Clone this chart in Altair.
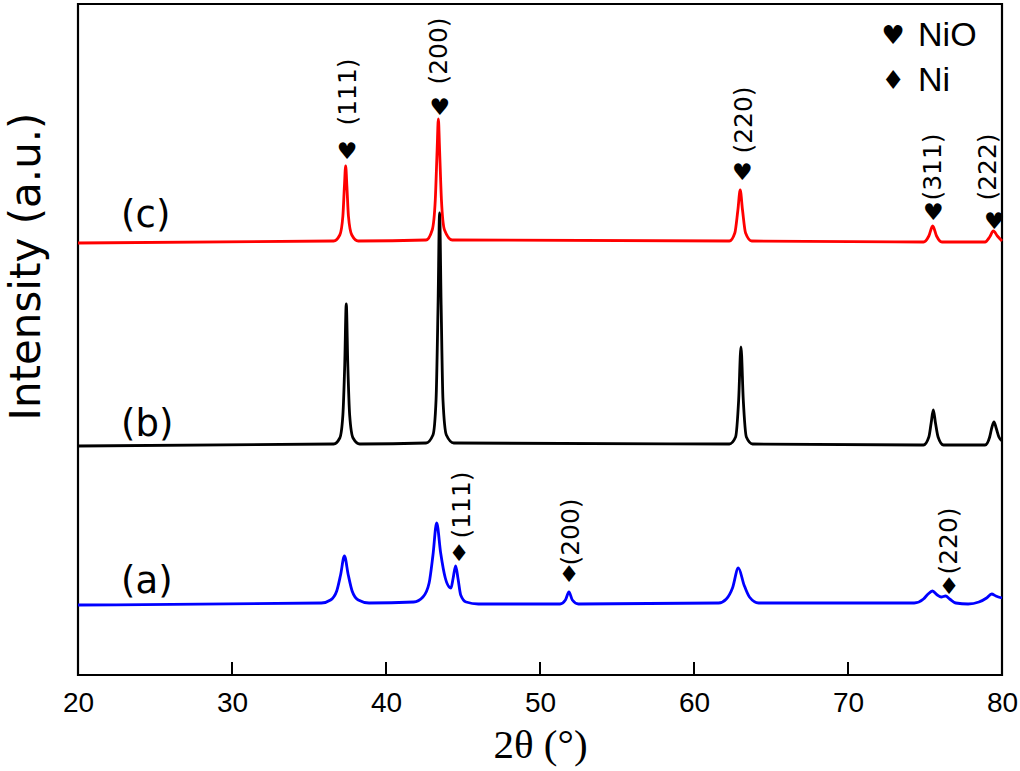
import altair as alt
import pandas as pd

# ---- data (2theta in degrees, intensity in arbitrary units, stacked offsets) ----
c_x = [20, 36.6, 37.0, 37.2, 37.3, 37.38, 37.46, 37.56, 37.78, 38.2,
       42.6, 43.0, 43.2, 43.32, 43.40, 43.48, 43.6, 43.8, 44.3,
       62.3, 62.65, 62.85, 63.0, 63.15, 63.35, 63.75,
       74.9, 75.25, 75.5, 75.75, 76.1,
       78.9, 79.2, 79.44, 79.7, 80]
c_y = [432, 434, 440, 459, 489, 509, 489, 459, 440, 434,
       435, 445, 475, 525, 556, 525, 475, 445, 435,
       434, 442, 465, 485, 465, 442, 434,
       433, 439, 449, 439, 433,
       433, 438, 444, 439, 434]

b_x = [20, 36.6, 37.0, 37.2, 37.32, 37.42, 37.52, 37.64, 37.86, 38.3,
       42.6, 43.05, 43.25, 43.38, 43.48, 43.58, 43.7, 43.92, 44.4,
       62.3, 62.7, 62.9, 63.05, 63.2, 63.4, 63.8,
       74.9, 75.25, 75.4, 75.54, 75.68, 75.85, 76.2,
       78.9, 79.2, 79.35, 79.48, 79.62, 79.8, 80]
b_y = [229, 231, 237, 260, 310, 371, 310, 260, 237, 231,
       232, 240, 275, 370, 462, 370, 275, 240, 232,
       231, 238, 275, 328, 275, 238, 231,
       230, 238, 252, 265, 252, 238, 230,
       230, 238, 248, 253, 247, 238, 234]

a_x = [20, 35.8, 36.4, 36.8, 37.05, 37.3, 37.55, 37.8, 38.2, 38.9,
       41.8, 42.4, 42.8, 43.05, 43.29, 43.55, 43.85, 44.1, 44.22, 44.35, 44.52, 44.68, 44.85, 45.2, 46,
       51.3, 51.65, 51.88, 52.1, 52.5,
       61.6, 62.1, 62.5, 62.88, 63.25, 63.6, 64.2,
       74.3, 74.9, 75.2, 75.48, 75.8, 76.05, 76.34, 76.6, 77.0, 77.8, 78.5, 79.0, 79.33, 79.6, 80]
a_y = [70, 72, 75, 84, 100, 119, 100, 84, 75, 72,
       73, 78, 92, 120, 152, 122, 97, 88, 87, 96, 109, 96, 80, 73, 71,
       71, 75, 83, 75, 71,
       72, 76, 87, 107, 90, 78, 72,
       72, 76, 81, 84, 80, 78, 79, 76, 72, 71, 73, 77, 81, 79, 77]

series_names = ["(a)", "(b)", "(c)"]
series_colors = ["#0000ff", "#000000", "#ff0000"]
label_x = [22.8, 22.8, 22.8]
label_y = [93, 250, 459]

# peak annotations: marker glyph, marker position, hkl label and label position
nio_peak_x = [37.47, 43.5, 63.14, 75.54, 79.5]
nio_peak_y = [523, 567, 502, 462, 453]
nio_hkl = ["(111)", "(200)", "(220)", "(311)", "(222)"]
nio_lab_x = [37.53, 43.47, 63.26, 75.49, 79.06]
nio_lab_y = [583, 624, 555, 508, 508]

ni_peak_x = [44.74, 51.88, 76.56]
ni_peak_y = [121, 100, 88]
ni_hkl = ["(111)", "(200)", "(220)"]
ni_lab_x = [44.95, 52.0, 76.56]
ni_lab_y = [170, 143, 134]

legend_sym = ["♥", "♦"]
legend_txt = ["NiO", "Ni"]
legend_sym_x = [72.94, 72.94]
legend_y = [639, 594]
legend_txt_x = [74.55, 74.55]

tick_vals = [20, 30, 40, 50, 60, 70, 80]

# ---- tables ----
rows = []
for name, xs, ys in zip(series_names, [a_x, b_x, c_x], [a_y, b_y, c_y]):
    for i, (x, y) in enumerate(zip(xs, ys)):
        rows.append({"series": name, "t": x, "I": y, "order": i})
lines_df = pd.DataFrame(rows)

labels_df = pd.DataFrame({"t": label_x, "I": label_y, "txt": series_names})
markers_df = pd.DataFrame({
    "t": nio_peak_x + ni_peak_x,
    "I": nio_peak_y + ni_peak_y,
    "sym": ["♥"] * len(nio_peak_x) + ["♦"] * len(ni_peak_x),
})
hkl_df = pd.DataFrame({"t": nio_lab_x + ni_lab_x, "I": nio_lab_y + ni_lab_y, "txt": nio_hkl + ni_hkl})
leg_sym_df = pd.DataFrame({"t": legend_sym_x, "I": legend_y, "sym": legend_sym})
leg_txt_df = pd.DataFrame({"t": legend_txt_x, "I": legend_y, "txt": legend_txt})
ticks_df = pd.DataFrame({"t": tick_vals[1:-1]})

xscale = alt.Scale(domain=[20, 80], nice=False, zero=False)
yscale = alt.Scale(domain=[0, 671], nice=False, zero=False)

xaxis = alt.Axis(values=tick_vals, ticks=False, tickSize=0, domain=False, grid=False,
                 labelFontSize=28, labelFont="Liberation Sans", labelColor="black",
                 labelPadding=14, labelFlush=False, labelOverlap=False, format="d",
                 title="2θ (°)", titleFont="Liberation Serif", titleFontSize=41,
                 titleFontWeight="normal", titleColor="black",
                 titleY=70, titleBaseline="middle")
yaxis = alt.Axis(labels=False, ticks=False, domain=False, grid=False,
                 title="Intensity (a.u.)", titleFont="DejaVu Sans", titleFontSize=42,
                 titleFontWeight="normal", titleColor="black",
                 titleX=-52, titleY=262, titleAngle=270, titleAlign="center",
                 titleBaseline="middle")

lines = alt.Chart(lines_df).mark_line(strokeWidth=2.8, interpolate="monotone").encode(
    x=alt.X("t:Q", scale=xscale, axis=xaxis),
    y=alt.Y("I:Q", scale=yscale, axis=yaxis),
    color=alt.Color("series:N", scale=alt.Scale(domain=series_names, range=series_colors), legend=None),
    order="order:Q",
    detail="series:N",
)

ticks = alt.Chart(ticks_df).mark_rule(color="black", strokeWidth=2).encode(
    x=alt.X("t:Q", scale=xscale),
    y=alt.value(671), y2=alt.value(658),
)

series_labels = alt.Chart(labels_df).mark_text(
    align="left", baseline="middle", fontSize=37, font="DejaVu Sans", color="black"
).encode(x=alt.X("t:Q", scale=xscale), y=alt.Y("I:Q", scale=yscale), text="txt:N")

markers = alt.Chart(markers_df).mark_text(
    align="center", baseline="middle", fontSize=23, font="DejaVu Sans", color="black"
).encode(x=alt.X("t:Q", scale=xscale), y=alt.Y("I:Q", scale=yscale), text="sym:N")

hkl = alt.Chart(hkl_df).mark_text(
    align="center", baseline="middle", angle=270, fontSize=25, font="DejaVu Sans", color="black"
).encode(x=alt.X("t:Q", scale=xscale), y=alt.Y("I:Q", scale=yscale), text="txt:N")

leg_sym = alt.Chart(leg_sym_df).mark_text(
    align="center", baseline="middle", fontSize=26, font="DejaVu Sans", color="black"
).encode(x=alt.X("t:Q", scale=xscale), y=alt.Y("I:Q", scale=yscale), text="sym:N")

leg_txt = alt.Chart(leg_txt_df).mark_text(
    align="left", baseline="middle", fontSize=34, font="Liberation Sans", color="black"
).encode(x=alt.X("t:Q", scale=xscale), y=alt.Y("I:Q", scale=yscale), text="txt:N")

chart = alt.layer(lines, ticks, series_labels, markers, hkl, leg_sym, leg_txt).properties(
    width=924, height=671,
    autosize=alt.AutoSizeParams(type="none"),
    padding={"left": 78, "top": 4, "right": 18, "bottom": 96},
    background="white",
).configure_view(stroke="black", strokeWidth=2.2)

chart.save("out.html", embed_options={"renderer": "svg", "actions": False})
